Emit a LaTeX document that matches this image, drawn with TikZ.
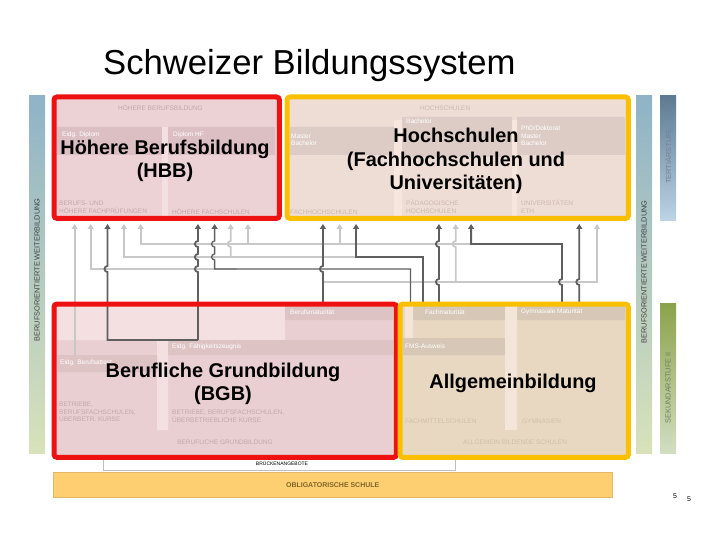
\documentclass[tikz,border=0pt]{standalone}
\usepackage{fontspec}
\setmainfont{Liberation Sans}
\usetikzlibrary{positioning,arrows.meta,calc}
\definecolor{frred}{HTML}{EE1111}
\definecolor{fryel}{HTML}{FAC000}
\definecolor{hbbfill}{HTML}{ECD1D5}
\definecolor{hbbsub}{HTML}{DCBFC3}
\definecolor{hbbgap}{HTML}{F4E0E3}
\definecolor{hsfill}{HTML}{EEDDD5}
\definecolor{hssub}{HTML}{DDCCC6}
\definecolor{hsgap}{HTML}{F6E6DE}
\definecolor{bgbfill}{HTML}{E9CFD1}
\definecolor{bgbsub}{HTML}{DDC3C4}
\definecolor{bgblite}{HTML}{F4DFE1}
\definecolor{agbfill}{HTML}{E8D8C2}
\definecolor{agbsub}{HTML}{D6C7B6}
\definecolor{agbgap}{HTML}{F3E5D7}
\definecolor{faint}{HTML}{C4A6AA}
\definecolor{hstext}{HTML}{CDB7AD}
\definecolor{agbtext}{HTML}{D0BFA8}
\definecolor{oblig}{HTML}{FDCF70}
\definecolor{obledge}{HTML}{E3B765}
\definecolor{obltext}{HTML}{80652A}
\definecolor{barblue}{HTML}{8FB3C6}
\definecolor{bargreen}{HTML}{D8E2BA}
\definecolor{terdark}{HTML}{5D7A92}
\definecolor{terlite}{HTML}{BCD4E4}
\definecolor{tertext}{HTML}{6F8499}
\definecolor{sekdark}{HTML}{8BA24C}
\definecolor{seklite}{HTML}{D2DEC2}
\definecolor{sektext}{HTML}{71805C}
\definecolor{darkln}{HTML}{5F5F5F}
\definecolor{liteln}{HTML}{C8C8C8}

\begin{document}
\begin{tikzpicture}[x=1bp, y=-1bp,
  font=\fontsize{6.5}{7.6}\selectfont,
  area/.style={inner sep=0pt, anchor=north west, fill=#1},
  frame/.style={line width=5bp, rounded corners=3bp},
  big/.style={font=\fontsize{20}{23.5}\selectfont\bfseries, align=center},
  hint/.style={text=white, anchor=west, inner sep=0pt, align=left},
  dim/.style={text=faint, anchor=west, inner sep=0pt, align=left},
  bar/.style={inner sep=0pt, anchor=north west, minimum width=16bp},
  bartext/.style={rotate=90, inner sep=0pt, font=\fontsize{7.4}{8}\selectfont, text=#1},
  tip/.style={-{Triangle[length=5bp,width=6bp]}},
  pit/.style={{Triangle[length=5bp,width=6bp]}-},
  dark/.style={draw=darkln, line width=1.8bp},
  lite/.style={draw=liteln, line width=1.8bp}
]
\useasboundingbox (0,0) rectangle (720,540);
% ---- title ----
\node[anchor=base west, inner sep=0pt, font=\fontsize{34.8}{40}\selectfont] (title) at (103,75) {Schweizer Bildungssystem};
% ---- side bars ----
\node[bar, minimum height=358bp, top color=barblue, bottom color=bargreen] (wbl) at (29,95) {};
\node[bar, minimum height=358bp, top color=barblue, bottom color=bargreen] (wbr) at (636,95) {};
\node[bar, minimum height=125bp, top color=terdark, bottom color=terlite] (ter) at (660,95) {};
\node[bar, minimum height=150bp, top color=sekdark, bottom color=seklite] (sek) at (660,303) {};
\node[bartext=black!75] (wbltxt) at (37,270) {BERUFSORIENTIERTE WEITERBILDUNG};
\node[bartext=black!75] (wbrtxt) at (644,272) {BERUFSORIENTIERTE WEITERBILDUNG};
\node[bartext=tertext] (tertxt) at (668,156) {TERTIÄRSTUFE};
\node[bartext=sektext] (sektxt) at (668,388) {SEKUNDARSTUFE II};
% ---- bridge offers and compulsory school ----
\node[area=white, draw=black!25, minimum width=352bp, minimum height=16bp] (bruecke) at (103,454) {};
\node[inner sep=0pt, font=\fontsize{5}{6}\selectfont] (bruetxt) at (282,463) {BRÜCKENANGEBOTE};
\node[area=oblig, draw=obledge, minimum width=559bp, minimum height=25bp] (oblig) at (53,472) {};
\node[font=\fontsize{7}{8}\selectfont\bfseries, text=obltext] (obltxt) at (oblig.center) {OBLIGATORISCHE SCHULE};
% ---- upper areas ----
\node[area=hbbfill, minimum width=225bp, minimum height=121bp] (hbb) at (54,97) {};
\node[area=hsfill, minimum width=341bp, minimum height=121bp] (hs) at (287,97) {};
\fill[hbbsub] (57,127) rectangle (162,155) (168,127) rectangle (275,155);
\fill[hbbgap] (162,127) rectangle (168,218);
\fill[hssub] (290,127) rectangle (394,155) (402,117) rectangle (512,157) (517,117) rectangle (625,155);
\fill[hsgap] (394,120) rectangle (402,218) (512,120) rectangle (517,218);
\node[dim] (hbbhead) at (118,108) {HÖHERE BERUFSBILDUNG};
\node[hint] (dipl) at (62,135) {Eidg. Diplom};
\node[hint] (diplhf) at (173,135) {Diplom HF};
\node[dim] (bhfp) at (59,207) {BERUFS- UND\\HÖHERE FACHPRÜFUNGEN};
\node[dim] (hfs) at (172,212) {HÖHERE FACHSCHULEN};
\node[dim, text=hstext] (hshead) at (420,108) {HOCHSCHULEN};
\node[hint] (fhdeg) at (291,140) {Master\\Bachelor};
\node[hint] (phdeg) at (406,121) {Bachelor};
\node[hint] (unideg) at (521,136) {PhD/Doktorat\\Master\\Bachelor};
\node[dim, text=hstext] (fh) at (290,212) {FACHHOCHSCHULEN};
\node[dim, text=hstext] (ph) at (406,207) {PÄDAGOGISCHE\\HOCHSCHULEN};
\node[dim, text=hstext] (uni) at (521,207) {UNIVERSITÄTEN\\ETH};
% ---- lower areas ----
\node[area=bgbfill, minimum width=342bp, minimum height=153bp] (bgb) at (54,304) {};
\node[area=agbfill, minimum width=228bp, minimum height=153bp] (agb) at (400,304) {};
\fill[bgblite] (57,305) rectangle (285,340) (157,340) rectangle (168,430);
\fill[bgbsub] (285,305) rectangle (393,320) (168,340) rectangle (393,355) (57,355) rectangle (157,372);
\fill[agbsub] (413,305) rectangle (505,320) (517,305) rectangle (625,320) (403,338) rectangle (505,355);
\fill[agbgap] (405,305) rectangle (413,338) (505,305) rectangle (517,430);
\node[hint] (bm) at (290,312) {Berufsmaturität};
\node[hint] (efz) at (172,347) {Eidg. Fähigkeitszeugnis};
\node[hint] (eba) at (60,363) {Eidg. Berufsattest};
\node[dim] (bbkl) at (59,412) {BETRIEBE,\\BERUFSFACHSCHULEN,\\ÜBERBETR. KURSE};
\node[dim] (bbkr) at (172,416) {BETRIEBE, BERUFSFACHSCHULEN,\\ÜBERBETRIEBLICHE KURSE};
\node[dim, anchor=center] (bgbfoot) at (225,442) {BERUFLICHE GRUNDBILDUNG};
\node[hint] (fm) at (425,312) {Fachmaturität};
\node[hint] (gm) at (521,312) {Gymnasiale Maturität};
\node[hint] (fms) at (405,346) {FMS-Ausweis};
\node[dim, text=agbtext] (fmsch) at (405,421) {FACHMITTELSCHULEN};
\node[dim, text=agbtext] (gym) at (522,421) {GYMNASIEN};
\node[dim, text=agbtext, anchor=center] (agbfoot) at (515,442) {ALLGEMEIN BILDENDE SCHULEN};
% ---- arrow tips under the upper areas ----
\foreach \n/\x in {1/74.6,2/90.7,3/107.5,4/123.9,5/140.7,6/197.9,7/214.6,8/230.7,9/247.9,
  10/322.9,11/339.6,12/356.1,13/438.9,14/455.7,15/471.1,16/579.3,17/597}
  \coordinate (a\n) at (\x,224);
\coordinate (eba-in) at (74.6,355);
\coordinate (efz-in) at (107.5,340);
\coordinate (efz-in2) at (197.9,340);
\coordinate (bm-in) at (322.9,305);
\coordinate (fm-in) at (410.4,305);
\coordinate (fm-in2) at (422.9,305);
\coordinate (fm-in3) at (438.9,305);
\coordinate (gm-in) at (562,305);
\coordinate (gm-in2) at (579.3,305);
% ---- light connectors ----
\draw[lite, tip] (eba-in) -- (a1);
\draw[lite, pit] (a2) -- (90.7,269) -- (237,269);
\draw[lite, pit] (a4) -- (123.9,257) -- (356.1,257);
\draw[lite, pit] (a5) -- (140.7,244) -- (471.1,244);
\draw[lite, pit] (a9) -- (247.9,244);
\draw[lite, pit] (a11) -- (339.6,244);
\draw[lite, pit] (a8) -- (230.7,241) arc[start angle=270, end angle=90, radius=3] -- (230.7,257);
\draw[lite, pit] (a14) -- (455.7,241) arc[start angle=270, end angle=90, radius=3] -- (455.7,282);
\draw[lite, pit] (a17) -- (597,282) -- (322.9,282);
% ---- dark connectors ----
\draw[dark, tip] (efz-in2) -- (efz-in) -- (107.5,272) arc[start angle=90, end angle=270, radius=3] -- (a3);
\draw[dark, tip] (efz-in2) -- (197.9,272) arc[start angle=90, end angle=270, radius=3] -- (197.9,260) arc[start angle=90, end angle=270, radius=3] -- (197.9,247) arc[start angle=90, end angle=270, radius=3] -- (a6);
\draw[dark, pit, line width=1.3bp] (a7) -- (214.6,241) arc[start angle=270, end angle=90, radius=3] -- (214.6,254) arc[start angle=270, end angle=90, radius=3] -- (214.6,269) -- (410.4,269) -- (fm-in);
\draw[dark, tip] (bm-in) -- (322.9,272) arc[start angle=90, end angle=270, radius=3] -- (a10);
\draw[dark, pit, line width=2.4bp] (a12) -- (356.1,257) -- (422.9,257) -- (fm-in2);
\draw[dark, tip] (fm-in3) -- (438.9,285) arc[start angle=90, end angle=270, radius=3] -- (438.9,247) arc[start angle=90, end angle=270, radius=3] -- (a13);
\draw[dark, pit] (a15) -- (471.1,244) -- (562,244) -- (562,279) arc[start angle=270, end angle=90, radius=3] -- (gm-in);
\draw[dark, tip] (gm-in2) -- (579.3,285) arc[start angle=90, end angle=270, radius=3] -- (a16);
% ---- highlight frames ----
\draw[frame, frred] (hbb.north west) rectangle (hbb.south east);
\draw[frame, fryel] (hs.north west) rectangle (hs.south east);
\draw[frame, frred] (bgb.north west) rectangle (bgb.south east);
\draw[frame, fryel] (agb.north west) rectangle (agb.south east);
% ---- overlay labels ----
\node[big] (hbblbl) at (165,161) {Höhere Berufsbildung\\(HBB)};
\node[big] (hslbl) at (456,161) {Hochschulen\\(Fachhochschulen und\\Universitäten)};
\node[big] (bgblbl) at (223,384) {Berufliche Grundbildung\\(BGB)};
\node[big] (agblbl) at (513,383) {Allgemeinbildung};
% ---- page numbers ----
\node[inner sep=0pt, font=\fontsize{7}{8}\selectfont] (pg1) at (675,496) {5};
\node[inner sep=0pt, font=\fontsize{7}{8}\selectfont] (pg2) at (689,499) {5};
\end{tikzpicture}
\end{document}
